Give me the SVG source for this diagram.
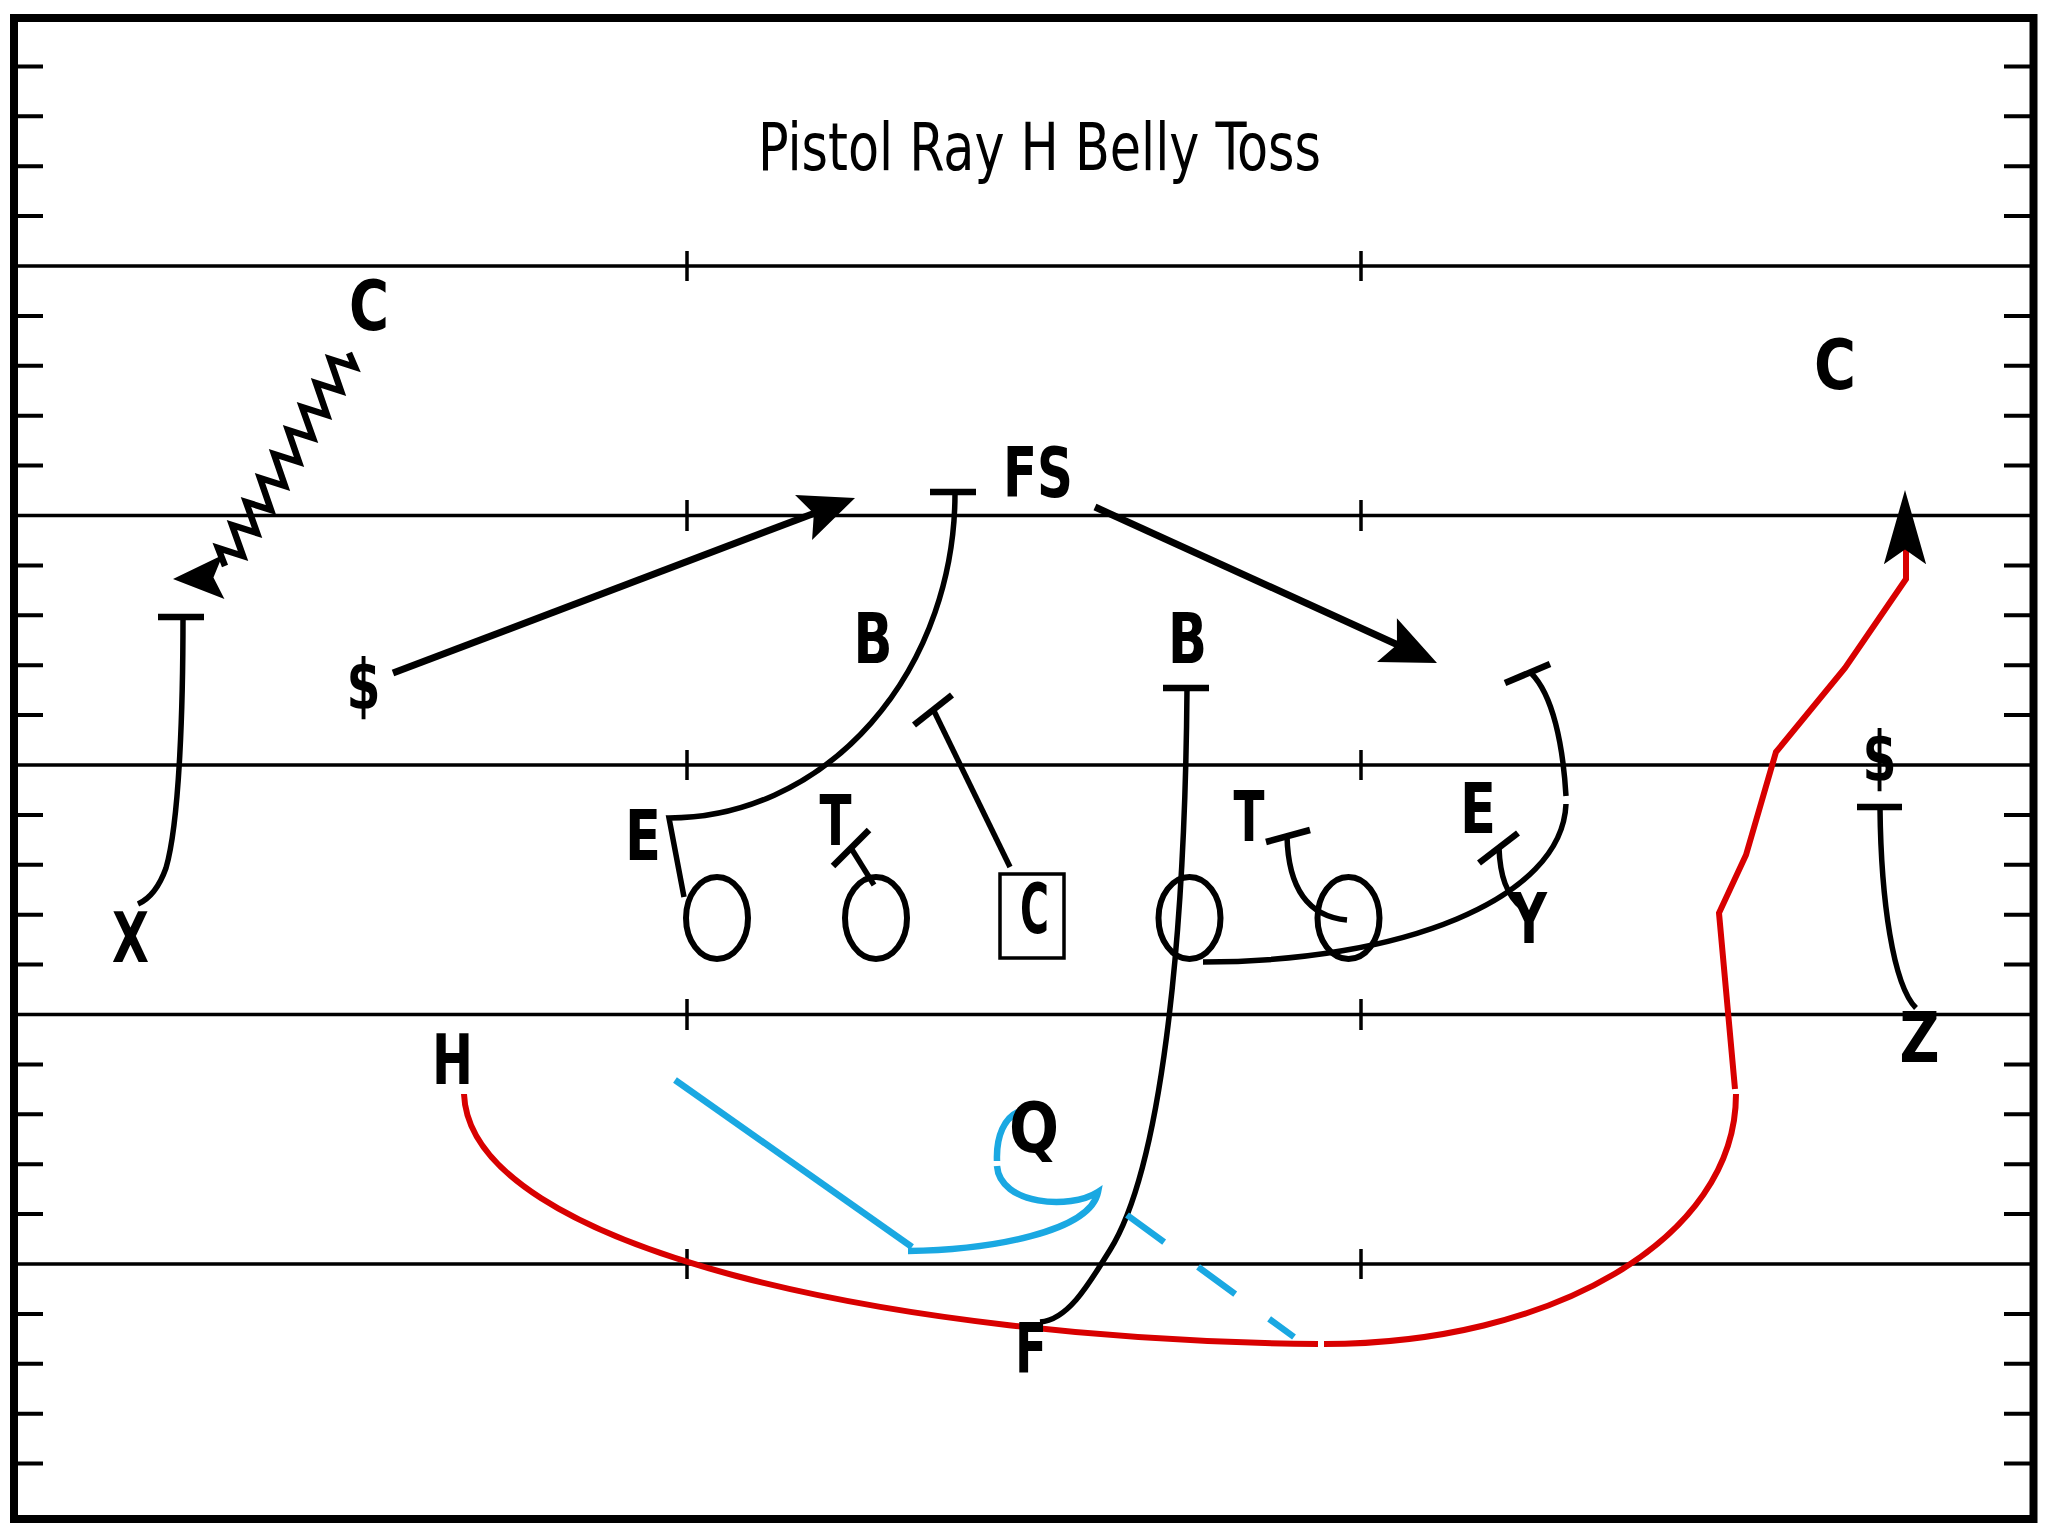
<svg xmlns="http://www.w3.org/2000/svg" xmlns:xlink="http://www.w3.org/1999/xlink" width="2048" height="1536" viewBox="0 0 2048 1536">
<style>
.fld{fill:none;stroke:#000;stroke-width:3.5}
.tick{fill:none;stroke:#000;stroke-width:4}
.lbl{font-family:"DejaVu Sans Condensed","DejaVu Sans","Liberation Sans",sans-serif;font-weight:bold;font-size:69px;fill:#000;text-anchor:middle}
.ttl{font-family:"DejaVu Sans Condensed","DejaVu Sans","Liberation Sans",sans-serif;font-size:65px;fill:#000;text-anchor:middle}
.rt{fill:none;stroke:#000;stroke-width:5.5;stroke-linecap:butt;stroke-linejoin:miter}
.thick{fill:none;stroke:#000;stroke-width:7}
.blk{fill:none;stroke:#000;stroke-width:6.5}
.red{fill:none;stroke:#D80000;stroke-width:6}
.blue{fill:none;stroke:#1AA8E2;stroke-width:6.5}
.ol{fill:none;stroke:#000;stroke-width:6}
.ah{fill:#000}
</style>
<defs>
<path id="arrow" d="M0,0 L-55,-24 L-44,0 L-55,24 Z"/>
</defs>
<rect width="2048" height="1536" fill="#fff"/>
<g id="field">
<rect x="14" y="18" width="2019.5" height="1501" fill="none" stroke="#000" stroke-width="8"/>
<path class="fld" d="M14,266 H2033 M14,515.5 H2033 M14,765 H2033 M14,1014.5 H2033 M14,1264 H2033"/>
<path class="fld" d="M687,251 V281 M1361,251 V281 M687,500 V531 M1361,500 V531 M687,750 V780 M1361,750 V780 M687,999 V1030 M1361,999 V1030 M687,1249 V1279 M1361,1249 V1279"/>
<path class="tick" d="M14,66.4 H43 M14,116.3 H43 M14,166.2 H43 M14,216.1 H43 M14,315.9 H43 M14,365.8 H43 M14,415.7 H43 M14,465.6 H43 M14,565.4 H43 M14,615.3 H43 M14,665.2 H43 M14,715.1 H43 M14,814.9 H43 M14,864.8 H43 M14,914.7 H43 M14,964.6 H43 M14,1064.4 H43 M14,1114.3 H43 M14,1164.2 H43 M14,1214.1 H43 M14,1313.9 H43 M14,1363.8 H43 M14,1413.7 H43 M14,1463.6 H43"/>
<path class="tick" d="M2004,66.4 H2033 M2004,116.3 H2033 M2004,166.2 H2033 M2004,216.1 H2033 M2004,315.9 H2033 M2004,365.8 H2033 M2004,415.7 H2033 M2004,465.6 H2033 M2004,565.4 H2033 M2004,615.3 H2033 M2004,665.2 H2033 M2004,715.1 H2033 M2004,814.9 H2033 M2004,864.8 H2033 M2004,914.7 H2033 M2004,964.6 H2033 M2004,1064.4 H2033 M2004,1114.3 H2033 M2004,1164.2 H2033 M2004,1214.1 H2033 M2004,1313.9 H2033 M2004,1363.8 H2033 M2004,1413.7 H2033 M2004,1463.6 H2033"/>
</g>
<g id="title">
<text class="ttl" x="1039.5" y="169.5" textLength="563" lengthAdjust="spacingAndGlyphs">Pistol Ray H Belly Toss</text>
</g>
<g id="connectors">
<!-- corner C zigzag -->
<path class="blk" stroke-width="6" d="M349,353 L355,367 L330,359 L341,391 L316,383 L327,415 L302,407 L313,438 L288,430 L299,462 L274,454 L285,486 L260,478 L271,510 L246,502 L257,533 L232,525 L243,556 L218,548 L225,566"/>
<use xlink:href="#arrow" class="ah" transform="translate(173,579) rotate(177.7) scale(0.92)"/>
<!-- X route -->
<path class="blk" d="M158,617 H204"/>
<path class="rt" d="M183,617 C183,700 180,820 166,868 Q156,896 138,904"/>
<!-- $ left arrow -->
<path class="thick" d="M393,673 L815,513"/>
<use xlink:href="#arrow" class="ah" transform="translate(855,498) rotate(-20.75)"/>
<!-- FS arrow -->
<path class="thick" d="M1095,507 L1398,645"/>
<use xlink:href="#arrow" class="ah" transform="translate(1437,663) rotate(24.5)"/>
<!-- FS block / E left route -->
<path class="blk" d="M930,492 H976"/>
<path class="rt" d="M955,493 A286,325 0 0 1 669,818 L684,897"/>
<!-- Center block -->
<path class="blk" d="M914,725 L952,695"/>
<path class="rt" d="M934,711 L1010,867"/>
<!-- T left block -->
<path class="blk" d="M833,866 L869,830"/>
<path class="rt" d="M851,848 L874,885"/>
<!-- B right / F route -->
<path class="blk" d="M1163,688 H1209"/>
<path class="rt" d="M1187,689 C1185,950 1160,1170 1110,1250 C1089,1284 1068,1320 1040,1322"/>
<!-- T right block -->
<path class="blk" d="M1266,842 L1310,830"/>
<path class="rt" d="M1287,836 C1288,880 1302,916 1347,920"/>
<!-- E right block -->
<path class="blk" d="M1479,863 L1518,833"/>
<path class="rt" d="M1499,848 C1500,875 1506,895 1523,909"/>
<!-- Y route -->
<path class="blk" d="M1505,683 L1550,664"/>
<path class="rt" d="M1531,673 C1553,695 1563,745 1566,796"/>
<path class="rt" d="M1566,804 C1562,900 1400,962 1203,962"/>
<!-- Z route -->
<path class="blk" d="M1857,807 H1902"/>
<path class="rt" d="M1880,808 C1881,900 1893,985 1916,1008"/>
<!-- H red route -->
<path class="red" d="M464,1094 C470,1250 900,1340 1318,1344"/>
<path class="red" d="M1324,1344 C1550,1344 1736,1240 1736,1094"/>
<path class="red" d="M1735,1089 L1719,913 L1746,855 L1776,752 L1845,668 L1906,579 L1906,545"/>
<use xlink:href="#arrow" class="ah" transform="translate(1905,490) rotate(-90) scale(1.35,0.88)"/>
<!-- Q blue route -->
<path class="blue" d="M675,1080 L912,1247"/>
<path class="blue" d="M908,1251 C990,1250 1090,1232 1098,1192 C1070,1210 1000,1205 997,1166"/>
<path class="blue" d="M997,1161 C996,1135 1005,1118 1018,1112"/>
<path class="blue" stroke-dasharray="46 42" d="M1127,1215 L1294,1337"/>
</g>
<g id="node-C-left"><text class="lbl" x="369" y="330" textLength="40" lengthAdjust="spacingAndGlyphs">C</text></g>
<g id="node-C-right"><text class="lbl" x="1835" y="389" textLength="42" lengthAdjust="spacingAndGlyphs">C</text></g>
<g id="node-FS"><text class="lbl" x="1038" y="497" textLength="70" lengthAdjust="spacingAndGlyphs">FS</text></g>
<g id="node-B-left"><text class="lbl" x="873" y="663" textLength="39" lengthAdjust="spacingAndGlyphs">B</text></g>
<g id="node-B-right"><text class="lbl" x="1187.5" y="663" textLength="39" lengthAdjust="spacingAndGlyphs">B</text></g>
<g id="node-S-left"><text class="lbl" x="363.5" y="709" font-size="64" textLength="34" lengthAdjust="spacingAndGlyphs">$</text></g>
<g id="node-S-right"><text class="lbl" x="1879.5" y="781" font-size="64" textLength="34" lengthAdjust="spacingAndGlyphs">$</text></g>
<g id="node-E-left"><text class="lbl" x="643" y="860" textLength="36" lengthAdjust="spacingAndGlyphs">E</text></g>
<g id="node-T-left"><text class="lbl" x="835.5" y="845" textLength="32" lengthAdjust="spacingAndGlyphs">T</text></g>
<g id="node-T-right"><text class="lbl" x="1249" y="841" textLength="31" lengthAdjust="spacingAndGlyphs">T</text></g>
<g id="node-E-right"><text class="lbl" x="1478" y="833" textLength="36" lengthAdjust="spacingAndGlyphs">E</text></g>
<g id="node-Y"><text class="lbl" x="1529" y="943" textLength="36" lengthAdjust="spacingAndGlyphs">Y</text></g>
<g id="node-X"><text class="lbl" x="130.5" y="962" textLength="37" lengthAdjust="spacingAndGlyphs">X</text></g>
<g id="node-Z"><text class="lbl" x="1919.5" y="1062" textLength="40" lengthAdjust="spacingAndGlyphs">Z</text></g>
<g id="node-H"><text class="lbl" x="452.5" y="1084" textLength="41" lengthAdjust="spacingAndGlyphs">H</text></g>
<g id="node-Q"><text class="lbl" x="1034" y="1152" textLength="50" lengthAdjust="spacingAndGlyphs">Q</text></g>
<g id="node-F"><text class="lbl" x="1031" y="1373" textLength="32" lengthAdjust="spacingAndGlyphs">F</text></g>
<g id="node-OL1"><ellipse class="ol" cx="717" cy="918" rx="31" ry="41"/></g>
<g id="node-OL2"><ellipse class="ol" cx="876" cy="918" rx="31" ry="41"/></g>
<g id="node-center"><rect x="1000" y="874" width="64" height="84" fill="none" stroke="#000" stroke-width="3.5"/><text class="lbl" x="1034.5" y="933" font-size="48" textLength="29" lengthAdjust="spacingAndGlyphs">C</text></g>
<g id="node-OL3"><ellipse class="ol" cx="1189.5" cy="918" rx="31" ry="41"/></g>
<g id="node-OL4"><ellipse class="ol" cx="1348.5" cy="918" rx="31" ry="41"/></g>
</svg>
